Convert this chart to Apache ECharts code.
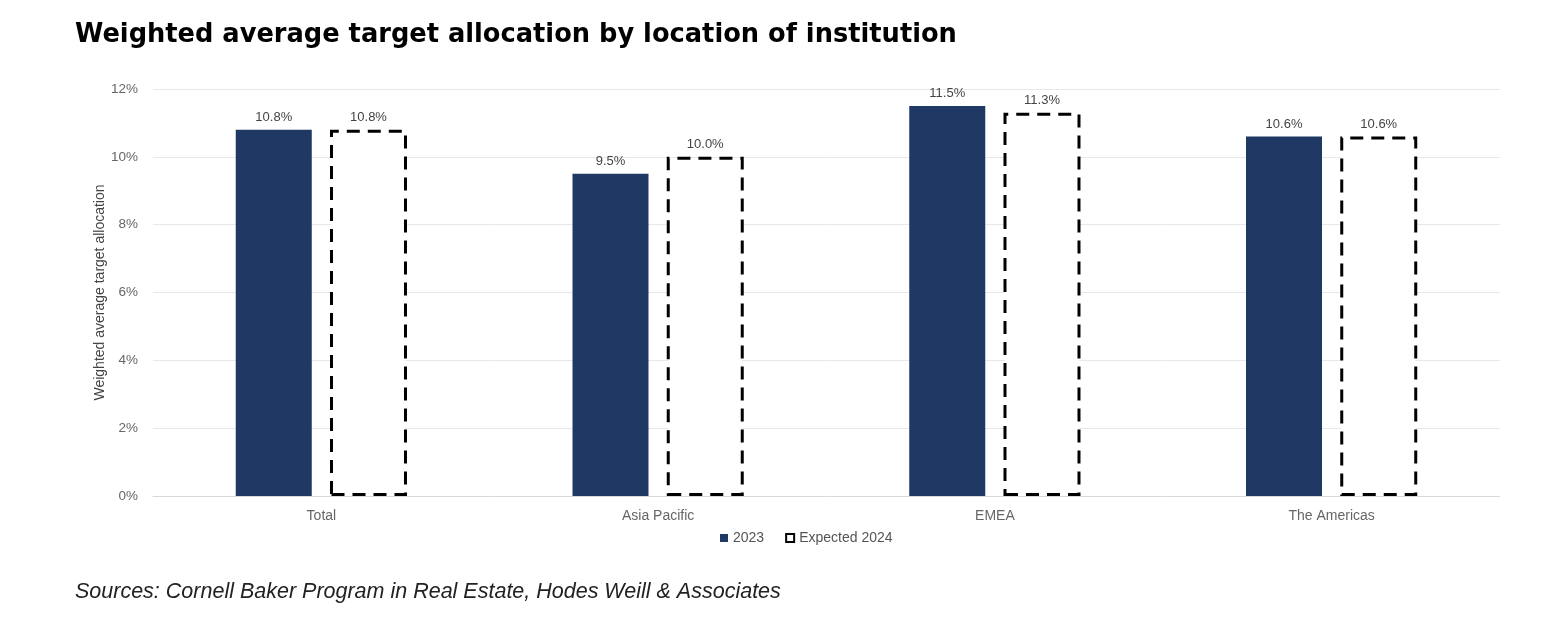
<!DOCTYPE html>
<html><head><meta charset="utf-8">
<script src="https://cdn.jsdelivr.net/npm/echarts@6/dist/echarts.min.js"></script>
<style>html,body{margin:0;padding:0;background:#fff}#c{width:1564px;height:636px}</style>
</head><body><div id="c"></div>
<script>
const categories = ["Total", "Asia Pacific", "EMEA", "The Americas"];
const values2023 = [10.8, 9.5, 11.5, 10.6];
const valuesExpected2024 = [10.8, 10.0, 11.3, 10.6];
const yTicks = [0, 2, 4, 6, 8, 10, 12];

const chart = echarts.init(document.getElementById('c'));
const font = "'Liberation Sans', Arial, Helvetica, sans-serif";
chart.setOption({
  animation: false,
  textStyle: { fontFamily: font },
  title: [
    { text: "Weighted average target allocation by location of institution", left: 70, top: 17,
      textStyle: { fontSize: 25.7, fontWeight: 'bold', color: '#000', fontFamily: "'DejaVu Sans', sans-serif" } },
    { text: "Sources: Cornell Baker Program in Real Estate, Hodes Weill & Associates", left: 70, top: 576,
      textStyle: { fontSize: 21.5, fontStyle: 'italic', fontWeight: 'normal', color: '#222', fontFamily: font } }
  ],
  legend: {
    bottom: 86, left: 715, itemWidth: 8, itemHeight: 8, itemGap: 21,
    textStyle: { fontSize: 14, color: '#555', fontFamily: font },
    data: [
      { name: '2023', icon: 'rect' },
      { name: 'Expected 2024', icon: 'rect' }
    ]
  },
  grid: { left: 153, right: 64, top: 89, bottom: 140 },
  xAxis: {
    type: 'category', data: categories,
    axisLine: { lineStyle: { color: '#d9d9d9' } },
    axisTick: { show: false },
    axisLabel: { fontSize: 14, color: '#666', margin: 13 }
  },
  yAxis: {
    type: 'value', min: yTicks[0], max: yTicks[yTicks.length - 1], interval: 2,
    name: 'Weighted average target allocation', nameLocation: 'middle', nameRotate: 90, nameGap: 46,
    nameMoveOverlap: false,
    nameTextStyle: { fontSize: 14, color: '#444' },
    axisLabel: { formatter: v => v + '%', fontSize: 13.5, color: '#666', margin: 15 },
    splitLine: { lineStyle: { color: '#e8e8e8' } },
    axisLine: { show: false }, axisTick: { show: false }
  },
  series: [
    { name: '2023', type: 'bar', data: values2023, barWidth: 76, barGap: '24%',
      itemStyle: { color: '#203864' },
      label: { show: true, position: 'top', distance: 6, formatter: p => p.value.toFixed(1) + '%', fontSize: 13, color: '#444' } },
    { name: 'Expected 2024', type: 'bar', data: valuesExpected2024, barWidth: 77,
      itemStyle: { color: '#fff', borderColor: '#000', borderWidth: 3, borderType: [13, 8] },
      label: { show: true, position: 'top', distance: 6, formatter: p => p.value.toFixed(1) + '%', fontSize: 13, color: '#444' } }
  ]
});
</script></body></html>
